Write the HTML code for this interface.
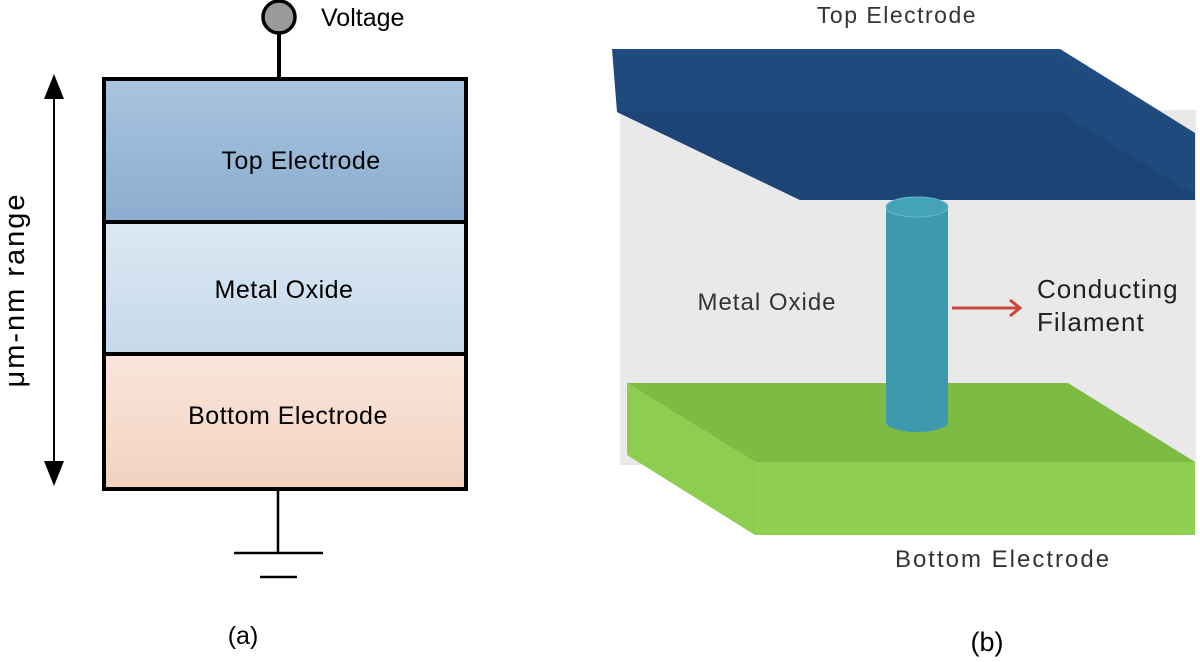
<!DOCTYPE html>
<html><head><meta charset="utf-8"><style>
html,body{margin:0;padding:0;background:#fff;}
svg{display:block;}
text{font-family:"Liberation Sans",sans-serif;}
</style></head><body>
<svg width="1200" height="662" viewBox="0 0 1200 662" xmlns="http://www.w3.org/2000/svg">
<defs>
<linearGradient id="gt" x1="0" y1="0" x2="0" y2="1"><stop offset="0" stop-color="#a8c4df"/><stop offset="1" stop-color="#8badcf"/></linearGradient>
<linearGradient id="gm" x1="0" y1="0" x2="0" y2="1"><stop offset="0" stop-color="#dce8f4"/><stop offset="1" stop-color="#c6d9ea"/></linearGradient>
<linearGradient id="gb" x1="0" y1="0" x2="0" y2="1"><stop offset="0" stop-color="#fae6dc"/><stop offset="1" stop-color="#f2d2c0"/></linearGradient>
</defs>
<!-- (a) -->
<rect x="104" y="79" width="362" height="143" fill="url(#gt)"/>
<rect x="104" y="222" width="362" height="131" fill="url(#gm)"/>
<rect x="104" y="353" width="362" height="136" fill="url(#gb)"/>
<rect x="104" y="79" width="362" height="410" fill="none" stroke="#000" stroke-width="4"/>
<line x1="104" y1="222" x2="466" y2="222" stroke="#000" stroke-width="4"/>
<line x1="104" y1="354" x2="466" y2="354" stroke="#000" stroke-width="4"/>
<line x1="279" y1="30" x2="279" y2="79" stroke="#000" stroke-width="4"/>
<circle cx="279" cy="17" r="16" fill="#9a9a9a" stroke="#000" stroke-width="3.5"/>
<text x="321" y="26" font-size="25" fill="#000">Voltage</text>
<line x1="278" y1="489" x2="278" y2="553" stroke="#000" stroke-width="2.5"/>
<line x1="234" y1="553" x2="323" y2="553" stroke="#000" stroke-width="2.5"/>
<line x1="260" y1="577" x2="297" y2="577" stroke="#000" stroke-width="2.5"/>
<line x1="54" y1="95" x2="54" y2="465" stroke="#000" stroke-width="2"/>
<polygon points="54,74 44,99 64,99" fill="#000"/>
<polygon points="54,486 44,461 64,461" fill="#000"/>
<text transform="translate(24,290) rotate(-90)" text-anchor="middle" font-size="29" letter-spacing="2" fill="#000">μm-nm range</text>
<text x="301" y="169" text-anchor="middle" font-size="25" letter-spacing="0.5" fill="#000">Top Electrode</text>
<text x="284" y="298" text-anchor="middle" font-size="25" letter-spacing="0.5" fill="#000">Metal Oxide</text>
<text x="288" y="424" text-anchor="middle" font-size="25" letter-spacing="0.5" fill="#000">Bottom Electrode</text>
<text x="243" y="644" text-anchor="middle" font-size="25" fill="#000">(a)</text>
<!-- (b) -->
<rect x="620" y="110" width="576" height="355" fill="#e9e9e9"/>
<polygon points="612,49 1060,49 1195,133 1195,200 800,200 617,112" fill="#1f4a7d"/>
<polygon points="617,112 1060,112 1195,195 1195,200 800,200" fill="#1d4476"/>
<polygon points="612,49 1060,49 1195,133 1060,58 620,58" fill="#234f85" opacity="0.6"/>
<polygon points="627,383 1068,383 1195,462 755,462" fill="#7dbb44"/>
<polygon points="755,462 1195,462 1195,535 755,535" fill="#8fd050"/>
<polygon points="627,383 755,462 755,535 627,455" fill="#8dcd50"/>
<rect x="886" y="207" width="62" height="215" fill="#3d9aae"/>
<ellipse cx="917" cy="422" rx="31" ry="10" fill="#3d9aae"/>
<ellipse cx="917" cy="207" rx="31" ry="10" fill="#44a3b8" stroke="#6ab8c8" stroke-width="1"/>
<line x1="952" y1="308" x2="1018" y2="308" stroke="#c8463e" stroke-width="3"/>
<polyline points="1010,300 1020,308 1010,316" fill="none" stroke="#c8463e" stroke-width="3"/>
<text x="897" y="23" text-anchor="middle" font-size="23" letter-spacing="1.5" fill="#333">Top Electrode</text>
<text x="767" y="310" text-anchor="middle" font-size="24" letter-spacing="1" fill="#333">Metal Oxide</text>
<text x="1037" y="298" font-size="26" letter-spacing="1" fill="#222">Conducting</text>
<text x="1037" y="331" font-size="26" letter-spacing="1" fill="#222">Filament</text>
<text x="1003" y="567" text-anchor="middle" font-size="24" letter-spacing="2" fill="#333">Bottom Electrode</text>
<text x="987" y="651" text-anchor="middle" font-size="27" fill="#000">(b)</text>
</svg>
</body></html>
